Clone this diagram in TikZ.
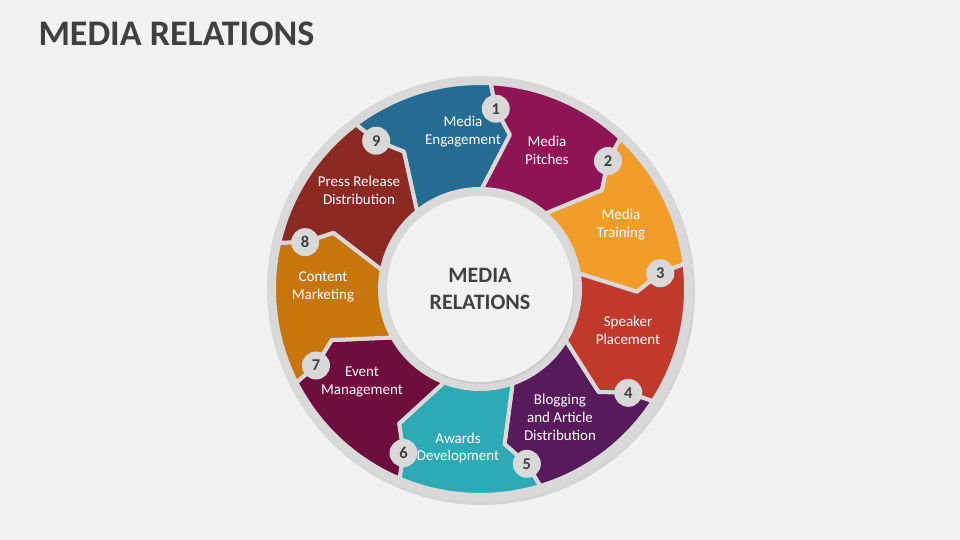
\documentclass[tikz,border=0pt]{standalone}
\usepackage{tikz}
\usepackage{xcolor}
\usepackage{fontspec}
\setmainfont{Carlito}
\usetikzlibrary{shapes, shadows, calc, positioning}
\definecolor{mrback}{HTML}{F2F2F2}
\definecolor{mrgap}{HTML}{D9D9D9}
\definecolor{mrtext}{HTML}{404040}
\definecolor{mrblue}{HTML}{266B92}
\definecolor{mrmagenta}{HTML}{8F1454}
\definecolor{mrorange}{HTML}{F29D2A}
\definecolor{mrred}{HTML}{C0392B}
\definecolor{mrpurple}{HTML}{571A5A}
\definecolor{mrteal}{HTML}{2EAAB6}
\definecolor{mrmaroon}{HTML}{6E0E3C}
\definecolor{mrochre}{HTML}{C8760C}
\definecolor{mrbrick}{HTML}{8B2923}

% one coloured piece of the ring, from badge angle #1 to badge angle #2
\newcommand{\mrpiece}[3]{%
  \filldraw[piece, fill=#3] (#1+4:100) -- (#1-6:157) -- (#1:181) -- (#1+2:206)
    arc[start angle=#1+2, end angle=#2+2, radius=206]
    -- (#2:181) -- (#2-6:157) -- (#2+4:100)
    arc[start angle=#2+4, end angle=#1+4, radius=100] -- cycle;}

\tikzset{
  piece/.style={draw=mrgap, line width=4pt, line join=round},
  badge/.style={circle, fill=mrgap, minimum size=28pt, inner sep=0pt,
    text=mrtext, font=\bfseries\fontsize{16.5}{18}\selectfont},
  label/.style={align=center, text=white, font=\fontsize{15}{18}\selectfont}
}

\begin{document}
\begin{tikzpicture}[x=1pt, y=1pt]
            \useasboundingbox (-480,-251) rectangle (480,289);
            \fill[mrback] (-480,-251) rectangle (480,289);

            \node [anchor=west, text=mrtext, font=\bfseries\fontsize{36}{42}\selectfont] (title) at (-445,255) {MEDIA RELATIONS};

            % outer ring
            \fill[mrgap, drop shadow={opacity=0.25, shadow xshift=2pt, shadow yshift=-3pt}] (0,0) circle (213);

            \mrpiece{125}{85}{mrblue}
            \mrpiece{85}{45}{mrmagenta}
            \mrpiece{45}{5}{mrorange}
            \mrpiece{5}{-35}{mrred}
            \mrpiece{-35}{-75}{mrpurple}
            \mrpiece{-75}{-115}{mrteal}
            \mrpiece{-115}{-155}{mrmaroon}
            \mrpiece{-155}{-195}{mrochre}
            \mrpiece{-195}{-235}{mrbrick}

            % centre disc
            \fill[mrgap] (0,0) circle (101);
            \node [circle, fill=mrback, minimum size=186pt, inner sep=0pt, drop shadow={opacity=0.15, shadow xshift=1pt, shadow yshift=-2pt},
                   align=center, text=mrtext, font=\bfseries\fontsize{22}{27}\selectfont] (hub) at (0,0) {MEDIA\\RELATIONS};

            \node [badge] (b1) at (85:181)   {1};
            \node [badge] (b2) at (45:181)   {2};
            \node [badge] (b3) at (5:181)    {3};
            \node [badge] (b4) at (-35:181)  {4};
            \node [badge] (b5) at (-75:181)  {5};
            \node [badge] (b6) at (-115:181) {6};
            \node [badge] (b7) at (-155:181) {7};
            \node [badge] (b8) at (-195:181) {8};
            \node [badge] (b9) at (-235:181) {9};

            \node [label] (engage)  at (-17,157)  {Media\\Engagement};
            \node [label] (pitch)   at (67,139)   {Media\\Pitches};
            \node [label] (train)   at (141,64)   {Media\\Training};
            \node [label] (speaker) at (148,-41)  {Speaker\\Placement};
            \node [label] (blog)    at (80,-128)  {Blogging\\and Article\\Distribution};
            \node [label] (award)   at (-22,-159) {Awards\\Development};
            \node [label] (event)   at (-118,-93) {Event\\Management};
            \node [label] (content) at (-157,2)   {Content\\Marketing};
            \node [label] (press)   at (-121,99)  {Press Release\\Distribution};

        \end{tikzpicture}
\end{document}
